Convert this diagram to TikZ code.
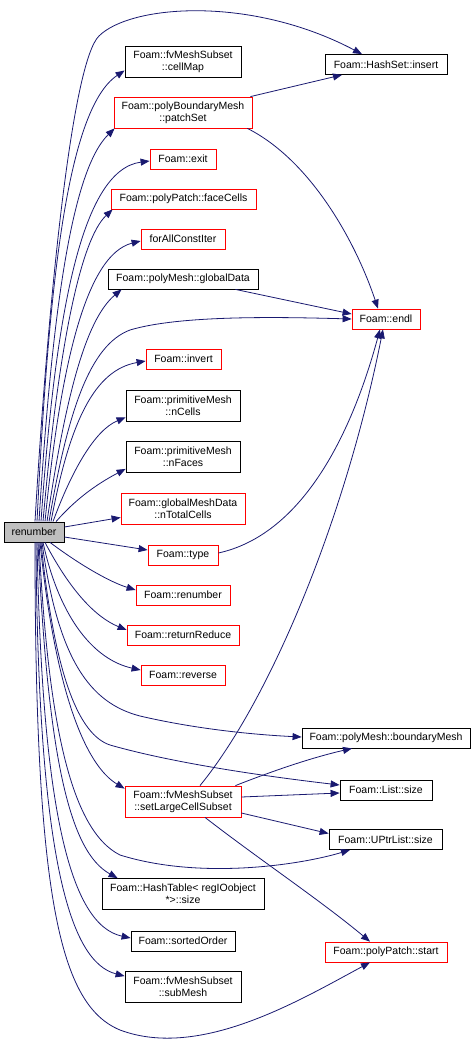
\documentclass[tikz,border=0pt]{standalone}
\usepackage{fontspec}
\setmainfont{Liberation Sans}
\usetikzlibrary{arrows.meta,calc}
\definecolor{navy}{HTML}{191970}
\definecolor{boxred}{HTML}{FF0000}
\definecolor{rootgray}{HTML}{BFBFBF}
\begin{document}
\begin{tikzpicture}[x=1pt,y=-1pt,
  box/.style={draw=black,line width=0.8pt,inner sep=0pt,align=center,font=\fontsize{10.5}{12}\selectfont,minimum height=20pt},
  two/.style={minimum height=31pt},
  redbox/.style={box,draw=boxred},
  rootbox/.style={box,fill=rootgray},
  edge/.style={draw=navy,line width=0.8pt,-{Triangle[length=9pt,width=7pt]}}]
\useasboundingbox (0,0) rectangle (474,1044);
% nodes
\node[rootbox,minimum width=60pt] (renumber) at (34,532) {renumber};
\node[box,two,minimum width=116pt] (cellMap) at (183,61.5) {Foam::fvMeshSubset\\::cellMap};
\node[box,minimum width=122pt] (insert) at (386,64.5) {Foam::HashSet::insert};
\node[redbox,two,minimum width=138pt] (patchSet) at (183,112.5) {Foam::polyBoundaryMesh\\::patchSet};
\node[redbox,minimum width=66pt] (exit) at (183,159) {Foam::exit};
\node[redbox,minimum width=145pt] (faceCells) at (183.5,199) {Foam::polyPatch::faceCells};
\node[redbox,minimum width=84pt] (forAll) at (183,239) {forAllConstIter};
\node[box,minimum width=150pt] (globalData) at (183,279) {Foam::polyMesh::globalData};
\node[redbox,minimum width=68pt] (endl) at (386,319) {Foam::endl};
\node[redbox,minimum width=75pt] (invert) at (183.5,359) {Foam::invert};
\node[box,two,minimum width=114pt] (nCells) at (183,405.5) {Foam::primitiveMesh\\::nCells};
\node[box,two,minimum width=114pt] (nFaces) at (183,457) {Foam::primitiveMesh\\::nFaces};
\node[redbox,two,minimum width=124pt] (nTotal) at (183,508.5) {Foam::globalMeshData\\::nTotalCells};
\node[redbox,minimum width=70pt] (type) at (183,555) {Foam::type};
\node[redbox,minimum width=94pt] (renum2) at (183,595) {Foam::renumber};
\node[redbox,minimum width=112pt] (retRed) at (183,635) {Foam::returnReduce};
\node[redbox,minimum width=84pt] (reverse) at (183,675) {Foam::reverse};
\node[box,minimum width=168pt] (bMesh) at (386,738) {Foam::polyMesh::boundaryMesh};
\node[box,minimum width=92pt] (lsize) at (386,790) {Foam::List::size};
\node[redbox,two,minimum width=116pt] (setLarge) at (183,801.5) {Foam::fvMeshSubset\\::setLargeCellSubset};
\node[box,minimum width=113pt] (uptr) at (385.5,839.5) {Foam::UPtrList::size};
\node[box,two,minimum width=162pt] (hashTable) at (183,894) {Foam::HashTable< regIOobject\\ *>::size};
\node[box,minimum width=104pt] (sorted) at (183,941) {Foam::sortedOrder};
\node[redbox,minimum width=122pt] (start) at (386,952) {Foam::polyPatch::start};
\node[box,two,minimum width=116pt] (subMesh) at (183,987) {Foam::fvMeshSubset\\::subMesh};
% edges from renumber (top)
\draw[edge] ($(renumber.north)+(1,0)$) .. controls (48,300) and (72,62) .. (99,36) .. controls (130,5) and (250,-5) .. ($(insert.north)+(-24,0)$);
\draw[edge] ($(renumber.north)+(3,0)$) .. controls (48,300) and (65,110) .. ($(cellMap.west)+(0,9)$);
\draw[edge] ($(renumber.north)+(5,0)$) .. controls (52,310) and (72,170) .. ($(patchSet.south west)+(1,0)$);
\draw[edge] ($(renumber.north)+(7,0)$) .. controls (55,320) and (80,170) .. ($(exit.west)+(0,2)$);
\draw[edge] ($(renumber.north)+(9,0)$) .. controls (58,350) and (80,240) .. ($(faceCells.south west)+(2,0)$);
\draw[edge] ($(renumber.north)+(11,0)$) .. controls (60,370) and (85,255) .. ($(forAll.west)+(0,2)$);
\draw[edge] ($(renumber.north)+(13,0)$) .. controls (65,400) and (85,320) .. ($(globalData.south west)+(14,0)$);
\draw[edge] ($(renumber.north)+(15,0)$) .. controls (68,410) and (90,345) .. (130,330) .. controls (180,315) and (280,317) .. (endl.west);
\draw[edge] ($(renumber.north)+(17,0)$) .. controls (70,420) and (95,370) .. ($(invert.west)+(0,2)$);
\draw[edge] ($(renumber.north)+(19,0)$) .. controls (72,470) and (95,430) .. ($(nCells.south west)+(0,-4)$);
\draw[edge] ($(renumber.north)+(22,0)$) .. controls (75,500) and (95,485) .. ($(nFaces.south west)+(0,-4)$);
% right side
\draw[edge] ($(renumber.east)+(0,-5)$) -- ($(nTotal.west)+(0,9)$);
\draw[edge] ($(renumber.east)+(0,5)$) -- ($(type.west)+(0,-5)$);
% bottom
\draw[edge] ($(renumber.south)+(16,0)$) .. controls (80,565) and (110,582) .. ($(renum2.west)+(0,-5)$);
\draw[edge] ($(renumber.south)+(11,0)$) .. controls (70,590) and (95,617) .. ($(retRed.west)+(0,-5)$);
\draw[edge] ($(renumber.south)+(9,0)$) .. controls (60,620) and (95,660) .. ($(reverse.west)+(0,-5)$);
\draw[edge] ($(renumber.south)+(8,0)$) .. controls (58,660) and (90,703) .. (140,716) .. controls (200,730) and (260,735) .. ($(bMesh.west)+(0,-1)$);
\draw[edge] ($(renumber.south)+(7,0)$) .. controls (55,680) and (80,735) .. (110,745) .. controls (180,765) and (280,778) .. ($(lsize.west)+(0,-5)$);
\draw[edge] ($(renumber.south)+(6,0)$) .. controls (55,690) and (85,765) .. ($(setLarge.north west)+(0,3)$);
\draw[edge] ($(renumber.south)+(5,0)$) .. controls (48,720) and (70,830) .. (120,855) .. controls (200,880) and (300,865) .. ($(uptr.south)+(-35.5,0)$);
\draw[edge] ($(renumber.south)+(4,0)$) .. controls (48,760) and (70,852) .. ($(hashTable.north west)+(16,0)$);
\draw[edge] ($(renumber.south)+(3,0)$) .. controls (42,810) and (70,925) .. ($(sorted.west)+(0,-3)$);
\draw[edge] ($(renumber.south)+(2,0)$) .. controls (38,860) and (70,962) .. ($(subMesh.north west)+(0,5)$);
\draw[edge] ($(renumber.south)+(1,0)$) .. controls (35,900) and (60,1005) .. (120,1030) .. controls (200,1060) and (300,1000) .. ($(start.south)+(-16,0)$);
% secondary edges
\draw[edge] ($(patchSet.north east)+(-2,0)$) -- ($(insert.south)+(-44,0)$);
\draw[edge] ($(patchSet.south east)+(-5,0)$) .. controls (310,160) and (355,240) .. ($(endl.north)+(-8,0)$);
\draw[edge] ($(globalData.south east)+(-23,0)$) -- ($(endl.west)+(0,-5)$);
\draw[edge] ($(type.east)+(0,-2)$) .. controls (300,535) and (350,440) .. ($(endl.south)+(-6,0)$);
\draw[edge] ($(setLarge.north)+(17,0)$) .. controls (270,700) and (345,520) .. ($(endl.south)+(-3,0)$);
\draw[edge] ($(setLarge.north east)+(-6,0)$) .. controls (270,772) and (310,758) .. ($(bMesh.south)+(-34,0)$);
\draw[edge] ($(setLarge.east)+(0,-4.5)$) -- ($(lsize.west)+(0,3)$);
\draw[edge] ($(setLarge.east)+(0,11.5)$) -- ($(uptr.west)+(0,-6)$);
\draw[edge] ($(setLarge.south)+(22,0)$) .. controls (260,860) and (320,900) .. ($(start.north)+(-16,0)$);
\end{tikzpicture}
\end{document}
